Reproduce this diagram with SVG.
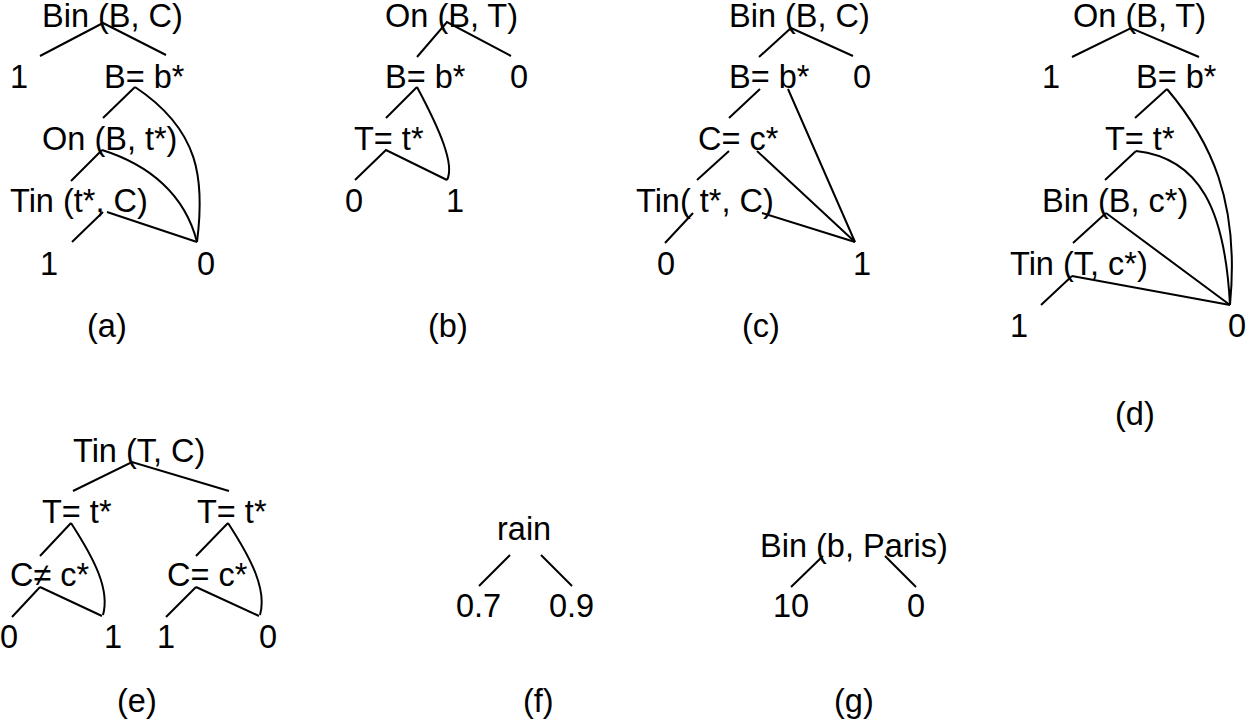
<svg xmlns="http://www.w3.org/2000/svg" width="1249" height="720" viewBox="0 0 1249 720">
<style>
text{font-family:"Liberation Sans",Arial,sans-serif;font-size:32.5px;fill:#000}
path,line{stroke:#000;stroke-width:2;fill:none}
</style>
<rect width="1249" height="720" fill="#fff"/>
<g id="connectors">
<path d="M40,56 L103,23 L166,55"/>
<path d="M135,87 L103,118 M135,87 C200,130 205,180 197,242"/>
<path d="M102,150 L71,181 M102,150 C150,165 185,195 197,242"/>
<path d="M103,212 L72,242 M107,212 L197,242"/>
<path d="M417,57 L447,22 L511,56"/>
<path d="M417,87 L386,118 M417,87 C440,130 455,165 447,180"/>
<path d="M386,150 L355,180 L386,150 L447,180"/>
<path d="M759,57 L791,28 L853,56"/>
<path d="M760,89 L729,118 M788,89 L855,242"/>
<path d="M729,151 L697,180 M757,151 L855,242"/>
<path d="M693,213 L665,243 M762,213 L855,242"/>
<path d="M1072,57 L1131,28 L1199,57"/>
<path d="M1167,89 L1135,118 M1167,89 C1210,140 1240,200 1230,305"/>
<path d="M1136,151 L1105,180 M1136,151 C1200,158 1225,210 1230,305"/>
<path d="M1106,213 L1073,243 M1106,213 L1230,305"/>
<path d="M1072,276 L1041,305 M1072,276 L1230,305"/>
<path d="M73,491 L132,462 L229,491"/>
<path d="M71,523 L40,556 M71,523 C95,560 110,590 103,615"/>
<path d="M40,587 L12,617 M40,587 L102,616"/>
<path d="M228,523 L196,556 M228,523 C252,560 267,590 260,615"/>
<path d="M196,587 L166,617 M196,587 L259,616"/>
<path d="M510,555 L479,586 M541,555 L572,586"/>
<path d="M823,556 L791,587 M885,556 L916,587"/>
</g>
<g id="a"><text x="42" y="27">Bin (B, C)</text><text x="10" y="88">1</text><text x="104" y="88">B= b*</text><text x="42" y="150">On (B, t*)</text><text x="10" y="212">Tin (t*, C)</text><text x="40" y="275">1</text><text x="197" y="275">0</text><text x="87" y="337">(a)</text></g>
<g id="b"><text x="385" y="27">On (B, T)</text><text x="385" y="88">B= b*</text><text x="510" y="88">0</text><text x="354" y="150">T= t*</text><text x="345" y="212">0</text><text x="446" y="212">1</text><text x="428" y="337">(b)</text></g>
<g id="c"><text x="729" y="27">Bin (B, C)</text><text x="729" y="88">B= b*</text><text x="853" y="88">0</text><text x="698" y="150">C= c*</text><text x="636" y="212">Tin( t*, C)</text><text x="657" y="275">0</text><text x="853" y="275">1</text><text x="742" y="337">(c)</text></g>
<g id="d"><text x="1073" y="27">On (B, T)</text><text x="1042" y="88">1</text><text x="1136" y="88">B= b*</text><text x="1105" y="150">T= t*</text><text x="1042" y="212">Bin (B, c*)</text><text x="1010" y="275">Tin (T, c*)</text><text x="1010" y="337">1</text><text x="1228" y="337">0</text><text x="1115" y="425">(d)</text></g>
<g id="e"><text x="73" y="462">Tin (T, C)</text><text x="42" y="523">T= t*</text><text x="197" y="523">T= t*</text><text x="10" y="586">C≠ c*</text><text x="167" y="586">C= c*</text><text x="0" y="648">0</text><text x="104" y="648">1</text><text x="157" y="648">1</text><text x="259" y="648">0</text><text x="117" y="712">(e)</text></g>
<g id="f"><text x="497" y="540">rain</text><text x="456" y="617">0.7</text><text x="549" y="617">0.9</text><text x="523" y="712">(f)</text></g>
<g id="g"><text x="760" y="557">Bin (b, Paris)</text><text x="773" y="617">10</text><text x="907" y="617">0</text><text x="834" y="712">(g)</text></g>
</svg>
